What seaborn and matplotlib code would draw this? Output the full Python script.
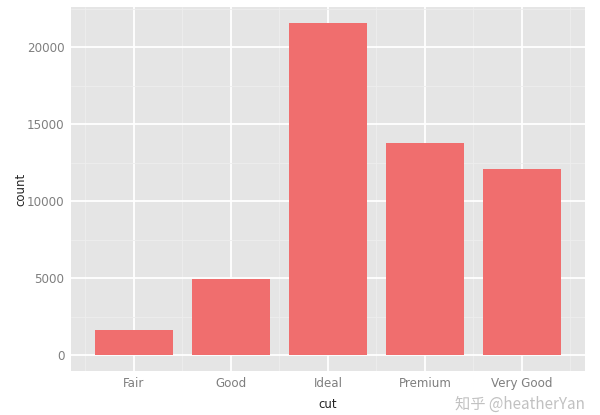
import numpy as np
import pandas as pd
import seaborn as sns
import matplotlib
matplotlib.use("Agg")
from matplotlib import pyplot as plt
from matplotlib.ticker import MultipleLocator

cuts = ["Fair", "Good", "Ideal", "Premium", "Very Good"]
counts = [1610, 4906, 21551, 13791, 12082]

data = pd.DataFrame({"cut": cuts, "count": counts})

sns.set_style("darkgrid", {
    "axes.facecolor": "#E5E5E5",
    "grid.color": "white",
    "axes.edgecolor": "#E5E5E5",
})
plt.rcParams["font.family"] = ["DejaVu Sans", "Noto Sans CJK SC"]

fig, ax = plt.subplots(figsize=(6, 4.15), dpi=100)
fig.subplots_adjust(left=0.118, right=0.975, top=0.983, bottom=0.106)

sns.barplot(data=data, x="cut", y="count", color="#F06E6E",
            width=0.8, saturation=1, linewidth=0, ax=ax, zorder=3)

ax.set_xlim(-0.65, 4.65)
ax.set_ylim(-1040, 22600)
ax.yaxis.set_major_locator(MultipleLocator(5000))
ax.yaxis.set_minor_locator(MultipleLocator(2500))
ax.xaxis.set_minor_locator(MultipleLocator(0.5))
ax.grid(which="major", color="white", linewidth=1.3)
ax.grid(which="minor", color="#EEEEEE", linewidth=0.6)
ax.tick_params(which="major", length=3, pad=1.5, color="#7F7F7F",
               labelcolor="#7F7F7F", labelsize=8.6, width=1)
ax.tick_params(which="minor", length=0)
for s in ax.spines.values():
    s.set_visible(False)
ax.set_xlabel("cut", fontsize=8.5, color="#222222")
ax.set_ylabel("count", fontsize=8.5, color="#222222")
ax.xaxis.set_label_coords(0.5, -0.074)
ax.yaxis.set_label_coords(-0.084, 0.5)

fig.text(0.975, 0.025, "知乎 @heatherYan", ha="right", va="center",
         fontsize=11, color="#BBBBBB", alpha=0.9,
         family=["Noto Sans CJK SC", "DejaVu Sans"])

fig.savefig("out.png", dpi=100)
